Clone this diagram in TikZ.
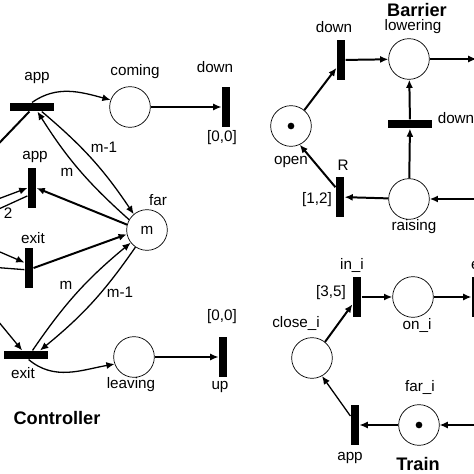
\documentclass[tikz,border=0pt]{standalone}
\usepackage{fontspec}
\setmainfont{Liberation Sans}
\usetikzlibrary{arrows.meta}
\tikzset{
  place/.style={circle,draw,line width=0.6pt,minimum size=1.22cm,inner sep=0pt,font=\fontsize{13}{15}\selectfont},
  vbar/.style={fill=black,minimum width=0.26cm,minimum height=1.2cm,inner sep=0pt},
  hbar/.style={fill=black,minimum width=1.3cm,minimum height=0.26cm,inner sep=0pt},
  flow/.style={-{Latex[length=7pt,width=6pt]},line width=1.1pt},
  bold flow/.style={flow,line width=1.7pt},
  lbl/.style={font=\fontsize{13}{15}\selectfont,inner sep=0pt},
  nettitle/.style={font=\fontsize{15.5}{18}\selectfont\bfseries,inner sep=0pt}
}
\begin{document}
\begin{tikzpicture}
\useasboundingbox (0,0) rectangle (14.22,14.22);
%---------------- Controller (left)
\node[hbar]  (app1)    at (0.96,11.01) {};
\node[place] (coming)  at (3.90,11.01) {};
\node[vbar]  (down1)   at (6.78,11.01) {};
\node[vbar]  (app2)    at (0.96,8.58) {};
\node[place] (far)     at (4.41,7.32) {m};
\node[vbar]  (exit1)   at (0.87,6.18) {};
\node[hbar]  (exit2)   at (0.78,3.57) {};
\node[place] (leaving) at (4.02,3.51) {};
\node[vbar]  (up)      at (6.69,3.51) {};
% labels
\node[lbl] (l-app1)    at (1.11,11.88) {app};
\node[lbl] (l-coming)  at (4.05,12.06) {coming};
\node[lbl] (l-down1)   at (6.45,12.21) {down};
\node[lbl] (l-dint)    at (6.66,10.08) {[0,0]};
\node[lbl] (l-app2)    at (1.05,9.51) {app};
\node[lbl] (l-two)     at (0.24,7.83) {2};
\node[lbl] (l-far)     at (4.74,8.22) {far};
\node[lbl] (l-exit1)   at (0.99,7.08) {exit};
\node[lbl] (l-exit2)   at (0.69,3.03) {exit};
\node[lbl] (l-leaving) at (3.93,2.67) {leaving};
\node[lbl] (l-uint)    at (6.66,4.71) {[0,0]};
\node[lbl] (l-up)      at (6.60,2.61) {up};
\node[lbl] (l-m1a)     at (3.12,9.81) {m-1};
\node[lbl] (l-ma)      at (2.01,9.06) {m};
\node[lbl] (l-mb)      at (1.98,5.67) {m};
\node[lbl] (l-m1b)     at (3.60,5.46) {m-1};
\node[nettitle] (t-ctrl) at (1.71,1.68) {Controller};
% loose ends (cut by the page)
\coordinate (wA) at (-0.3,9.64);
\coordinate (wB) at (-0.3,8.16);
\coordinate (wC) at (-0.3,7.83);
\coordinate (wD) at (-0.3,6.79);
\coordinate (wE) at (-0.3,6.21);
\coordinate (wF) at (-0.3,4.88);
% arcs
\draw[flow] (app1.north) to[out=35,in=165] (coming.160);
\draw[flow] (coming) -- (down1);
\draw[flow] (app1.-25) to[bend left=8] (far.130);
\draw[flow] (far.150) to[bend left=8] (app1.-40);
\draw[bold flow] (far.165) -- (app2.east);
\draw[bold flow] (exit1.east) -- (far.192);
\draw[flow] (exit2.35) to[bend left=8] (far.218);
\draw[flow] (far.236) to[bend left=8] (exit2.18);
\draw[flow] (exit2.-60) to[out=-40,in=190] (leaving.200);
\draw[flow] (leaving) -- (up);
\draw[line width=1.7pt] (app1.-120) -- (wA);
\draw[flow] (wB) -- (app2.west);
\draw[line width=1.1pt] (wC) -- (app2.240);
\draw[flow] (wD) -- (exit1.130);
\draw[line width=1.1pt] (wE) -- (exit1.200);
\draw[flow] (wF) -- (exit2.130);
%---------------- Barrier (top right)
\node[place] (open)     at (8.73,10.44) {};
\fill (open) circle (0.1);
\node[vbar]  (down3)    at (10.23,12.42) {};
\node[place] (lowering) at (12.27,12.45) {};
\node[hbar]  (down4)    at (12.30,10.50) {};
\node[place] (raising)  at (12.27,8.25) {};
\node[vbar]  (R)        at (10.20,8.31) {};
\node[vbar]  (lowered)  at (14.43,12.45) {};
\coordinate (eA) at (14.5,8.25);
\node[nettitle] (t-bar) at (12.51,13.92) {Barrier};
\node[lbl] (l-lowering) at (12.39,13.41) {lowering};
\node[lbl] (l-down3)    at (10.02,13.41) {down};
\node[lbl] (l-down4)    at (13.68,10.68) {down};
\node[lbl] (l-open)     at (8.73,9.36) {open};
\node[lbl] (l-R)        at (10.29,9.27) {R};
\node[lbl] (l-rint)     at (9.51,8.22) {[1,2]};
\node[lbl] (l-raising)  at (12.42,7.41) {raising};
\draw[bold flow] (open.50) -- (down3.240);
\draw[bold flow] (down3) -- (lowering);
\draw[flow] (lowering) -- (lowered);
\draw[bold flow] (raising) -- (down4);
\draw[bold flow] (down4) -- (lowering);
\draw[bold flow] (raising) -- (R);
\draw[bold flow] (R.115) -- (open.-65);
\draw[bold flow] (eA) -- (raising);
%---------------- Train (bottom right)
\node[place] (close) at (9.36,3.48) {};
\node[vbar]  (in)    at (10.71,5.31) {};
\node[place] (on)    at (12.39,5.31) {};
\node[vbar]  (exitT) at (14.28,5.31) {};
\node[place] (fari)  at (12.57,1.47) {};
\fill (fari) circle (0.1);
\node[vbar]  (appT)  at (10.65,1.47) {};
\coordinate (eB) at (14.5,1.47);
\node[lbl] (l-in)    at (10.56,6.27) {in\_i};
\node[lbl] (l-iint)  at (9.93,5.43) {[3,5]};
\node[lbl] (l-close) at (8.88,4.53) {close\_i};
\node[lbl] (l-on)    at (12.51,4.47) {on\_i};
\node[lbl,anchor=west] (l-exitT) at (14.13,6.27) {exit\_i};
\node[lbl] (l-fari)  at (12.60,2.61) {far\_i};
\node[lbl] (l-appT)  at (10.50,0.48) {app};
\node[nettitle] (t-train) at (12.54,0.29) {Train};
\draw[bold flow] (close.51) -- (in.238);
\draw[bold flow] (in) -- (on);
\draw[bold flow] (on) -- (exitT);
\draw[flow] (eB) -- (fari);
\draw[flow] (fari) -- (appT);
\draw[flow] (appT.117) -- (close.-61);
\end{tikzpicture}
\end{document}
